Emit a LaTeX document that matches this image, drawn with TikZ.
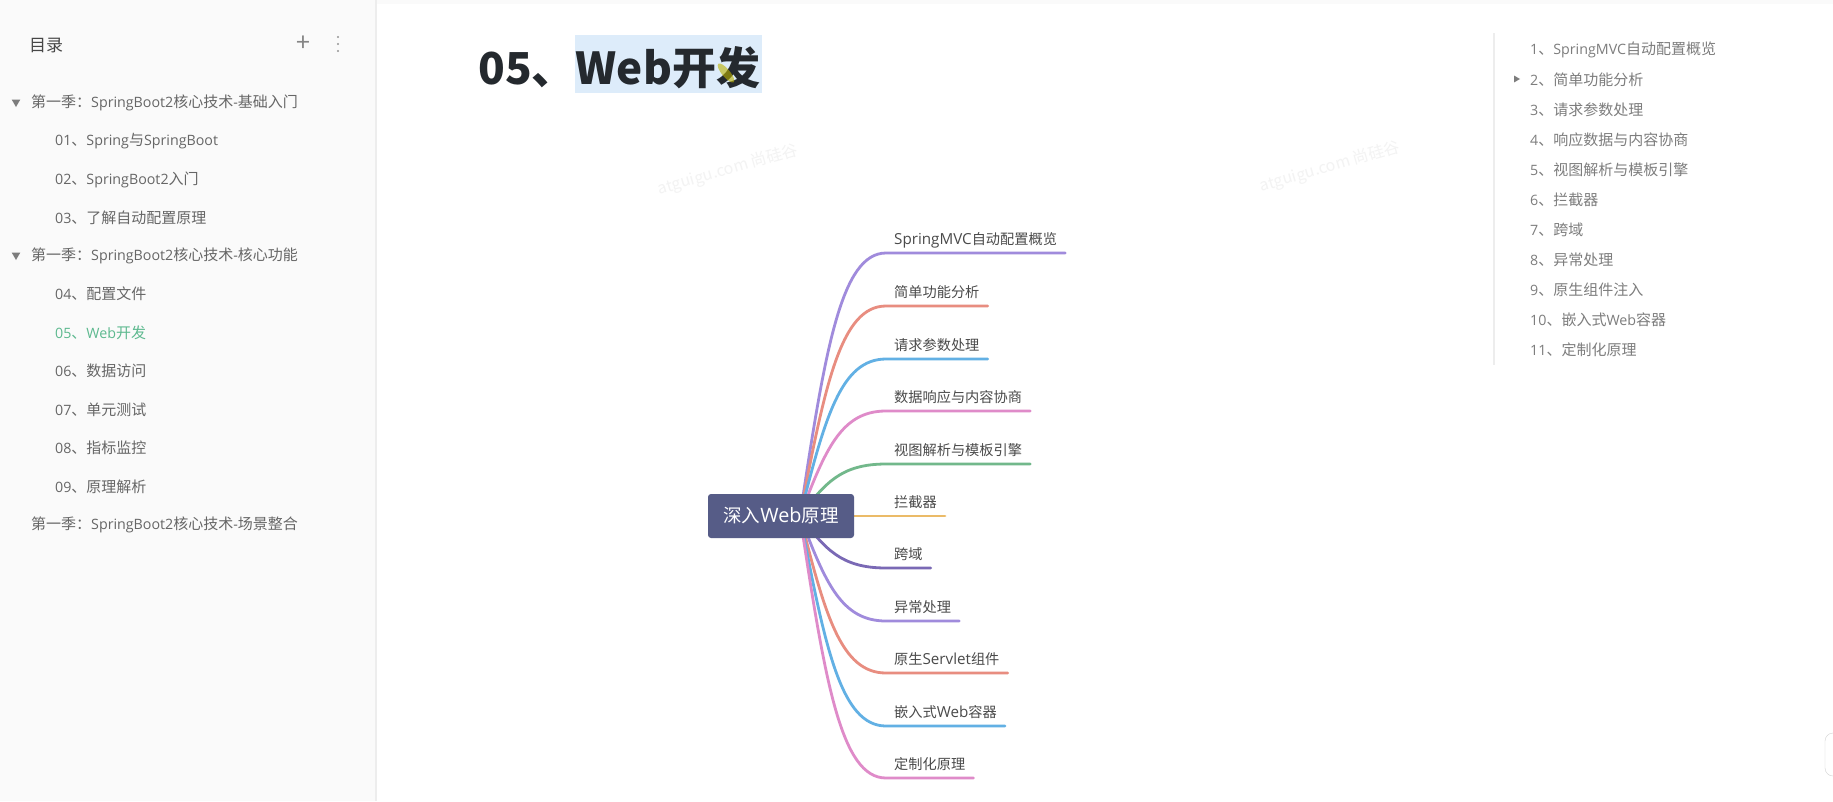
\documentclass[tikz,border=0pt]{standalone}
\usepackage{fontspec}
\setmainfont{Noto Sans CJK SC}
\newfontfamily\latfont[Scale=.95]{Open Sans}
\newfontfamily\latwide[Scale=1.07]{Open Sans}
\newcommand{\lat}[1]{{\latfont #1}}
\newcommand{\latw}[1]{{\latwide #1}}
\usetikzlibrary{shapes,positioning}
\definecolor{sidebg}{HTML}{FAFAFA}
\definecolor{sideline}{HTML}{EDEDED}
\definecolor{sidetext}{HTML}{666666}
\definecolor{activetext}{HTML}{5DB98F}
\definecolor{titletext}{HTML}{24292E}
\definecolor{marktext}{HTML}{DDECFA}
\definecolor{waterline}{HTML}{F3F3F3}
\definecolor{rootfill}{HTML}{565C87}
\definecolor{maptext}{HTML}{4A4A4A}
\definecolor{bpurple}{HTML}{A08BDC}
\definecolor{bred}{HTML}{E88D80}
\definecolor{bblue}{HTML}{62B0E4}
\definecolor{bpink}{HTML}{DF8BC9}
\definecolor{bgreen}{HTML}{72B88B}
\definecolor{borange}{HTML}{EBBB68}
\definecolor{bdark}{HTML}{7A69B5}
\tikzset{
  toc/.style={anchor=west,inner sep=0pt,yshift=-1pt,text=sidetext,font=\fontsize{15}{17}\selectfont},
  outline/.style={anchor=west,inner sep=0pt,yshift=-1pt,text=sidetext!85,font=\fontsize{15}{17}\selectfont},
  fold/.style={fill=sidetext!85,regular polygon,regular polygon sides=3,inner sep=0pt,minimum size=10pt},
  water/.style={text=waterline,rotate=16,inner sep=0pt,font=\fontsize{16}{18}\selectfont},
  topic/.style={anchor=south west,inner xsep=8pt,inner ysep=5pt,text height=12pt,text depth=3pt,text=maptext,font=\fontsize{14.2}{16}\selectfont},
  branch/.style={line width=2.8pt,line cap=round}
}
\begin{document}
\begin{tikzpicture}[x=1pt,y=-1pt]
      \useasboundingbox (0,0) rectangle (1833,801);
      \fill[white] (0,0) rectangle (1833,801);
      \fill[sidebg] (0,0) rectangle (375,801);
      \fill[sideline] (375,0) rectangle (377,801);
      \fill[sidebg] (377,0) rectangle (1833,4);

      \node[inner sep=0pt,anchor=west,text=sidetext!120,font=\fontsize{17}{20}\selectfont] (toctitle) at (29,45) {目录};
      \node[inner sep=0pt,text=sidetext!80,font=\fontsize{25}{25}\selectfont] (tocadd) at (303,44) {+};
      \fill[sidetext!70] (338,37) circle (1.2pt) (338,44) circle (1.2pt) (338,51) circle (1.2pt);

      \node[fold,rotate=180] (foldA) at (16,102) {};
      \node[fold,rotate=180] (foldB) at (16,255) {};
      \node[toc] (partA) at (31,102) {第一季：\lat{SpringBoot2}核心技术\lat{-}基础入门};
      \node[toc] (ch01) at (55,140) {\lat{01}、\lat{Spring}与\lat{SpringBoot}};
      \node[toc] (ch02) at (55,179) {\lat{02}、\lat{SpringBoot2}入门};
      \node[toc] (ch03) at (55,217) {\lat{03}、了解自动配置原理};
      \node[toc] (partB) at (31,255) {第一季：\lat{SpringBoot2}核心技术\lat{-}核心功能};
      \node[toc] (ch04) at (55,293) {\lat{04}、配置文件};
      \node[toc,text=activetext] (ch05) at (55,332) {\lat{05}、\lat{Web}开发};
      \node[toc] (ch06) at (55,370) {\lat{06}、数据访问};
      \node[toc] (ch07) at (55,409) {\lat{07}、单元测试};
      \node[toc] (ch08) at (55,447) {\lat{08}、指标监控};
      \node[toc] (ch09) at (55,486) {\lat{09}、原理解析};
      \node[toc] (partC) at (31,524) {第一季：\lat{SpringBoot2}核心技术\lat{-}场景整合};

      \fill[marktext] (575,35) rectangle (762,93);
      \node[inner sep=0pt,anchor=west,text=titletext,font=\fontsize{44}{50}\selectfont\bfseries] (pagetitle) at (478,68) {05、Web开发};
      \fill[olive!60!yellow,opacity=.6,rotate around={-50:(726,73)}] (726,73) ellipse (12pt and 4pt);

      \node[water] (waterA) at (728,170) {atguigu.com 尚硅谷};
      \node[water] (waterB) at (1330,167) {atguigu.com 尚硅谷};

      \draw[sideline,line width=2pt] (1494,33) -- (1494,365);
      \node[fold,rotate=-90,minimum size=8pt] (foldC) at (1516,79) {};
      \node[outline] (sec01) at (1530,49) {\lat{1}、\lat{SpringMVC}自动配置概览};
      \node[outline] (sec02) at (1530,79) {\lat{2}、简单功能分析};
      \node[outline] (sec03) at (1530,109) {\lat{3}、请求参数处理};
      \node[outline] (sec04) at (1530,139) {\lat{4}、响应数据与内容协商};
      \node[outline] (sec05) at (1530,169) {\lat{5}、视图解析与模板引擎};
      \node[outline] (sec06) at (1530,199) {\lat{6}、拦截器};
      \node[outline] (sec07) at (1530,229) {\lat{7}、跨域};
      \node[outline] (sec08) at (1530,259) {\lat{8}、异常处理};
      \node[outline] (sec09) at (1530,289) {\lat{9}、原生组件注入};
      \node[outline] (sec10) at (1530,319) {\lat{10}、嵌入式\lat{Web}容器};
      \node[outline] (sec11) at (1530,349) {\lat{11}、定制化原理};

      \coordinate (hub) at (800,516);
      \node[topic] (mvc) at (886,253) {\latw{SpringMVC}自动配置概览};
      \node[topic] (func) at (886,306) {简单功能分析};
      \node[topic] (param) at (886,359) {请求参数处理};
      \node[topic] (resp) at (886,411) {数据响应与内容协商};
      \node[topic] (view) at (886,464) {视图解析与模板引擎};
      \node[topic] (filter) at (886,516) {拦截器};
      \node[topic] (cors) at (886,568) {跨域};
      \node[topic] (error) at (886,621) {异常处理};
      \node[topic] (servlet) at (886,673) {原生\latw{Servlet}组件};
      \node[topic] (server) at (886,726) {嵌入式\latw{Web}容器};
      \node[topic] (custom) at (886,778) {定制化原理};

      \draw[branch,bpurple] (hub) .. controls +(25,-166) and +(-45,0) .. (mvc.south west) -- (mvc.south east);
      \draw[branch,bred] (hub) .. controls +(25,-132) and +(-45,0) .. (func.south west) -- (func.south east);
      \draw[branch,bblue] (hub) .. controls +(25,-99) and +(-45,0) .. (param.south west) -- (param.south east);
      \draw[branch,bpink] (hub) .. controls +(25,-66) and +(-45,0) .. (resp.south west) -- (resp.south east);
      \draw[branch,bgreen] (hub) .. controls +(25,-33) and +(-45,0) .. (view.south west) -- (view.south east);
      \draw[branch,borange] (hub) -- (filter.south east);
      \draw[branch,bdark] (hub) .. controls +(25,33) and +(-45,0) .. (cors.south west) -- (cors.south east);
      \draw[branch,bpurple] (hub) .. controls +(25,66) and +(-45,0) .. (error.south west) -- (error.south east);
      \draw[branch,bred] (hub) .. controls +(25,99) and +(-45,0) .. (servlet.south west) -- (servlet.south east);
      \draw[branch,bblue] (hub) .. controls +(25,132) and +(-45,0) .. (server.south west) -- (server.south east);
      \draw[branch,bpink] (hub) .. controls +(25,166) and +(-45,0) .. (custom.south west) -- (custom.south east);

      \node[fill=rootfill,rounded corners=3pt,text=white,minimum width=146pt,minimum height=44pt,inner sep=0pt,font=\fontsize{18.5}{20}\selectfont] (root) at (781,516) {深入\latw{Web}原理};

      \draw[black!18,fill=white,rounded corners=8pt] (1825,733) rectangle (1850,776);
    \end{tikzpicture}
\end{document}
